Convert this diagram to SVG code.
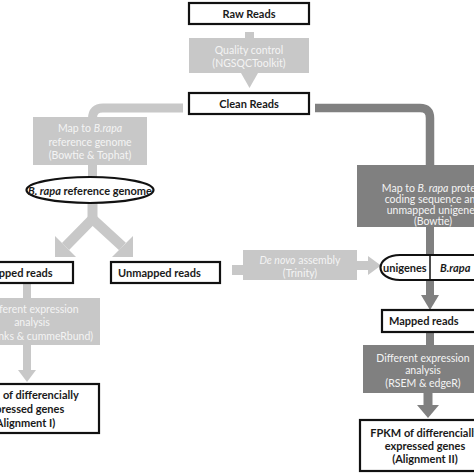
<svg xmlns="http://www.w3.org/2000/svg" width="474" height="474" viewBox="0 0 474 474">
<style>
.box{fill:#fff;stroke:#111;stroke-width:2.2}
.lt{fill:#c8c8c8}
.dk{fill:#808080}
.lbl{font-family:Lato,"Liberation Sans",sans-serif;font-size:11px;font-weight:bold;fill:#1a1a1a}
.gt{font-family:Lato,"Liberation Sans",sans-serif;font-size:10.5px;fill:#f4f4f4;text-anchor:middle}
.c{text-anchor:middle}
.ltl{fill:none;stroke:#c8c8c8}
.dkl{fill:none;stroke:#808080}
</style>
<rect width="474" height="474" fill="#fff"/>
<g id="connectors">
  <rect class="lt" x="245" y="32" width="9" height="42"/>
  <polygon class="lt" points="241,73 258,73 249.5,88"/>
  <path class="ltl" stroke-width="9" d="M183,108 H103 Q92.5,108 92.5,118.5 V125"/>
  <rect class="lt" x="88" y="164" width="9" height="14"/>
  <path class="ltl" stroke-width="10" d="M92.5,202 V221"/>
  <path class="ltl" stroke-width="10" d="M92.5,219 L65.5,246.5 M92.5,219 L122.5,246.5"/>
  <polygon class="lt" points="55,257 55,236 76,257"/>
  <polygon class="lt" points="133,257 133,236 112,257"/>
  <rect class="lt" x="23" y="282" width="8" height="17"/>
  <rect class="lt" x="23" y="344" width="8" height="27"/>
  <polygon class="lt" points="18,370 36,370 27,382"/>
  <rect class="lt" x="232" y="265" width="12" height="10"/>
  <rect class="lt" x="356" y="261" width="13" height="9"/>
  <polygon class="lt" points="368,256 368,275 381,265.5"/>
  <path class="dkl" stroke-width="8.5" d="M315,108 H420 Q430,108 430,118 V166"/>
  <path class="dkl" stroke-width="8" d="M430,226 V296"/>
  <polygon class="dk" points="421,295 439,295 430,310"/>
  <rect class="dk" x="426" y="331" width="8" height="15"/>
  <rect class="dk" x="423.5" y="392" width="9" height="14"/>
  <polygon class="dk" points="417,405 439,405 428,418"/>
</g>
<g id="raw-reads">
  <rect class="box" x="189" y="3" width="120" height="21"/>
  <text class="lbl c" x="249" y="18">Raw Reads</text>
</g>
<g id="quality-control">
  <rect class="lt" x="189" y="38" width="120" height="35"/>
  <text class="gt" x="249" y="54">Quality control</text>
  <text class="gt" x="249" y="67">(NGSQCToolkit)</text>
</g>
<g id="clean-reads">
  <rect class="box" x="189" y="93" width="120" height="21"/>
  <text class="lbl c" x="249" y="108">Clean Reads</text>
</g>
<g id="map-genome">
  <rect class="lt" x="33" y="117" width="114" height="48"/>
  <text class="gt" x="90" y="132">Map to <tspan font-style="italic">B.rapa</tspan></text>
  <text class="gt" x="90" y="146">reference genome</text>
  <text class="gt" x="90" y="159">(Bowtie &amp; Tophat)</text>
</g>
<g id="ref-genome">
  <ellipse cx="90" cy="190" rx="63.5" ry="13" fill="#fff" stroke="#111" stroke-width="2.2"/>
  <text class="lbl c" x="90" y="195"><tspan font-style="italic">B. rapa</tspan> reference  genome</text>
</g>
<g id="mapped-left">
  <rect class="box" x="-26" y="262" width="99" height="21"/>
  <text class="lbl" x="-17" y="277">Mapped reads</text>
</g>
<g id="unmapped">
  <rect class="box" x="111" y="262" width="109" height="21"/>
  <text class="lbl" x="118" y="277">Unmapped reads</text>
</g>
<g id="diff-left">
  <rect class="lt" x="-40" y="298" width="140" height="47"/>
  <text class="gt" x="32" y="313">Different expression</text>
  <text class="gt" x="32" y="326">analysis</text>
  <text class="gt" x="32" y="340">(Cufflinks &amp; cummeRbund)</text>
</g>
<g id="fpkm-left">
  <rect class="box" x="-40" y="384" width="139" height="49"/>
  <text class="lbl c" x="24" y="399">FPKM of differencially</text>
  <text class="lbl c" x="24" y="413">expressed genes</text>
  <text class="lbl c" x="24" y="427">(Alignment I)</text>
</g>
<g id="de-novo">
  <rect class="lt" x="243" y="250" width="114" height="30"/>
  <text class="gt" x="300" y="264"><tspan font-style="italic">De novo</tspan> assembly</text>
  <text class="gt" x="300" y="277">(Trinity)</text>
</g>
<g id="map-protein">
  <rect class="dk" x="357" y="165" width="130" height="62"/>
  <text class="gt" x="433" y="191.5">Map to <tspan font-style="italic">B. rapa</tspan> protein</text>
  <text class="gt" x="433" y="202.5">coding  sequence  and</text>
  <text class="gt" x="433" y="213.5">unmapped unigenes</text>
  <text class="gt" x="433" y="224.5">(Bowtie)</text>
</g>
<g id="unigenes">
  <path d="M480,255 H400 C388,255 380.5,261 380.5,267.5 C380.5,274 388,280 400,280 H480 Z" fill="#fff" stroke="#111" stroke-width="2.2"/>
  <line x1="430" y1="255" x2="430" y2="280" stroke="#111" stroke-width="1.5"/>
  <text class="lbl" x="383" y="272">unigenes</text>
  <text class="lbl" x="440" y="272" font-style="italic">B.rapa</text>
</g>
<g id="mapped-right">
  <rect class="box" x="382" y="310" width="100" height="22"/>
  <text class="lbl" x="389" y="325">Mapped reads</text>
</g>
<g id="diff-right">
  <rect class="dk" x="363" y="345" width="120" height="48"/>
  <text class="gt" x="423" y="362">Different expression</text>
  <text class="gt" x="423" y="374">analysis</text>
  <text class="gt" x="423" y="387">(RSEM &amp; edgeR)</text>
</g>
<g id="fpkm-right">
  <rect class="box" x="360" y="420" width="130" height="51"/>
  <text class="lbl c" x="425" y="437">FPKM of differencially</text>
  <text class="lbl c" x="425" y="450">expressed genes</text>
  <text class="lbl c" x="425" y="463">(Alignment II)</text>
</g>
</svg>
